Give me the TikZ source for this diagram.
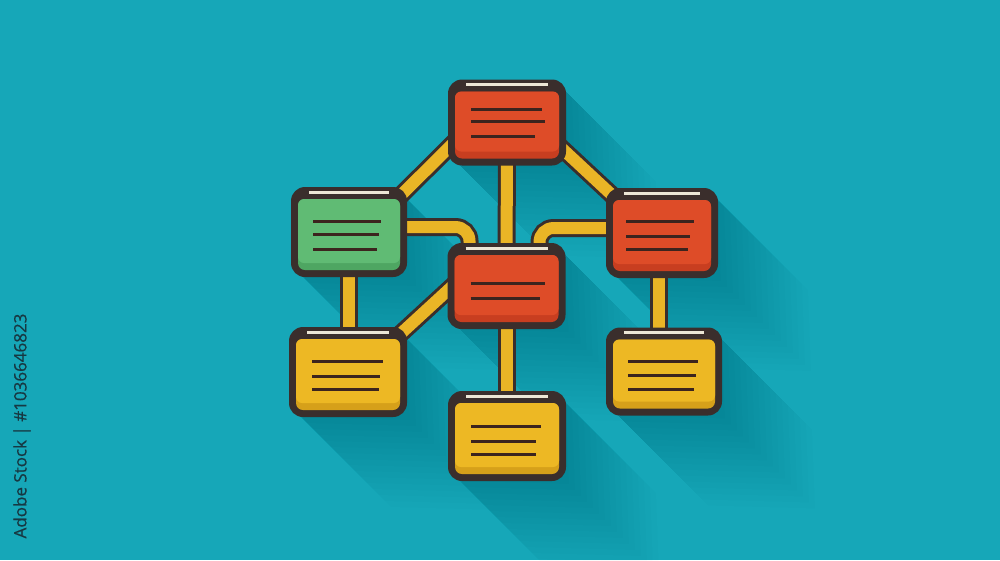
\documentclass[tikz,border=0pt]{standalone}
\usepackage{fontspec}
\newfontfamily\idfont{Open Sans}[FakeBold=0.6]
\usetikzlibrary{calc}
\definecolor{bg}{RGB}{22,167,184}
\definecolor{outl}{RGB}{58,46,44}
\definecolor{cream}{RGB}{236,230,214}
\definecolor{tl}{RGB}{60,36,30}
\definecolor{conn}{RGB}{234,181,38}
\definecolor{redf}{RGB}{222,76,40}
\definecolor{redd}{RGB}{200,62,32}
\definecolor{greenf}{RGB}{96,187,116}
\definecolor{greend}{RGB}{78,166,98}
\definecolor{yelf}{RGB}{237,184,36}
\definecolor{yeld}{RGB}{214,160,26}
\definecolor{idtext}{RGB}{22,56,66}
\newcommand\conn[1]{\draw[connout] #1; \draw[connin] #1;}
\newcommand\shp[2]{($(#1.north east)+(-6,6)$) -- ($(#1.north east)+(-6+#2,6+#2)$) -- ($(#1.south east)+(-3+#2,-3+#2)$) -- ($(#1.south west)+(6+#2,-6+#2)$) -- ($(#1.south west)+(6,-6)$) -- cycle}
\newcommand\boxart[4]{%
  \fill[outl, rounded corners=14pt] (#1.south west) rectangle (#1.north east);
  \fill[#3, rounded corners=7pt] ($(#1.north west)+(7,12)$) rectangle ($(#1.south east)+(-7,-7)$);
  \fill[#2, rounded corners=6pt] ($(#1.north west)+(7,12)$) rectangle ($(#1.south east)+(-7,-14)$);
  \draw[cream, line width=3pt] ($(#1.north west)+(18,5)$) -- ($(#1.north east)+(-18,5)$);
  \foreach \yy/\ll in {#4} { \draw[tline] ($(#1.center)+(-36,\yy)$) -- ++(\ll,0); }
}
\begin{document}
\begin{tikzpicture}[x=1pt,y=-1pt,
  boxnode/.style={minimum width=118pt,minimum height=90pt,inner sep=0pt,outer sep=0pt},
  connout/.style={draw=outl,line width=18pt,rounded corners=14pt},
  connin/.style={draw=conn,line width=12pt,rounded corners=14pt},
  tline/.style={draw=tl,line width=3pt},
]
\fill[bg] (0,0) rectangle (1000,560);
\useasboundingbox (0,0) rectangle (1000,560);
% box positions
\node[boxnode, minimum height=86pt] (T) at (507,122.5) {};
\node[boxnode, minimum width=116pt] (G) at (349,232) {};
\node[boxnode, minimum width=112pt] (R) at (662,233) {};
\node[boxnode, minimum height=86pt] (M) at (506.5,286) {};
\node[boxnode] (BL) at (348,372) {};
\node[boxnode, minimum width=116pt, minimum height=88pt] (BR) at (664,371.5) {};
\node[boxnode] (B) at (507,436) {};
% long soft shadows
\foreach \L in {6,12,...,96} {
  \fill[black, opacity=0.006] \shp{T}{\L} \shp{G}{\L} \shp{R}{\L} \shp{M}{\L} \shp{BL}{\L} \shp{BR}{\L} \shp{B}{\L};
}
% connectors
\conn{($(T)+(-44,11)$) -- ($(G)+(37,-22)$)}
\conn{($(T)+(41,13)$) -- ($(R)+(-35,-24)$)}
\conn{($(T.south)+(0,-5)$) -- ($(M.north)+(0,5)$)}
\conn{($(G.east)+(-8,-5)$) -| ($(M.north)+(-37,8)$)}
\conn{($(R.west)+(8,-5)$) -| ($(M.north)+(33,8)$)}
\conn{($(G.south)+(0,-5)$) -- ($(G.south |- BL.north)+(0,5)$)}
\conn{($(M)+(-42,-11)$) -- ($(BL)+(36,-23)$)}
\conn{($(M.south)+(0,-5)$) -- ($(M.south |- B.north)+(0,5)$)}
\conn{($(R.south)+(-3,-5)$) -- ($(R.south |- BR.north)+(-3,5)$)}
% boxes
\boxart{T}{redf}{redd}{-13/71,-1/74,14/64}
\boxart{G}{greenf}{greend}{-11/68,2/66,17/64}
\boxart{R}{redf}{redd}{-12/68,3/64,16/62}
\boxart{M}{redf}{redd}{-3/74,12/69}
\boxart{BL}{yelf}{yeld}{-11/71,4/68,17/67}
\boxart{BR}{yelf}{yeld}{-10/70,4/68,18/66}
\boxart{B}{yelf}{yeld}{-10/70,5/65,18/65}
% stock id
\node[rotate=90, font=\idfont\fontsize{17}{20}\selectfont, text=idtext, inner sep=0pt] (id) at (22,426) {Adobe Stock | \#1036646823};
\end{tikzpicture}
\end{document}
